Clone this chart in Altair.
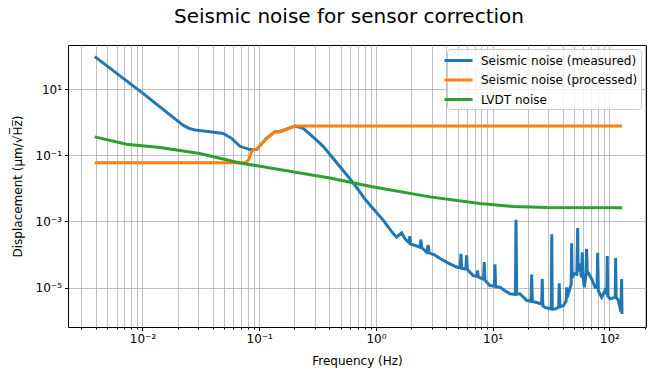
import altair as alt
import pandas as pd

series_names = ["Seismic noise (measured)", "Seismic noise (processed)", "LVDT noise"]
series_colors = ["#1f77b4", "#ff7f0e", "#2ca02c"]

freq_measured = [
    0.0039, 0.0101, 0.0141, 0.0196, 0.0224, 0.0251, 0.0282, 0.0378, 0.0492, 0.058, 0.0684, 0.0832,
    0.095, 0.1156, 0.136, 0.150, 0.202, 0.238, 0.310, 0.353, 0.431, 0.598,
    0.729, 0.80, 0.948, 1.05, 1.156, 1.406, 1.503, 1.66, 1.77, 1.86,
    1.93, 1.95, 1.98, 2.38, 2.43, 2.47, 2.72, 2.81, 2.85, 3.2, 3.78,
    4.3, 4.91, 5.27, 5.35, 5.43, 5.90, 5.98, 6.07, 6.82, 7.35, 7.43, 7.52,
    8.36, 8.47, 8.59, 9.48, 10.35, 10.47, 10.6, 11.56, 12.8, 14.06,
    15.67, 15.85, 16.07, 17.14, 19.54, 21.3, 21.6, 21.9, 23.0,
    26.3, 26.6, 26.9, 28.1, 31.8, 32.1, 32.4, 34.2,
    36.8, 37.2, 37.7, 40.3, 42.7, 43.1, 43.5, 45.4,
    47.1, 47.5, 48.0, 49.8, 52.7, 53.5, 54.0, 56.0,
    57.8, 58.6, 59.2, 61.0, 63.1, 63.8, 64.6, 70.5, 75.3,
    78.5, 79.4, 80.4, 85.9, 91.6, 95.1, 95.9, 96.8, 101.2,
    112.2, 113.2, 114.3, 119.4, 123.3, 126.0, 127.4, 128.2,
]
disp_measured = [
    95.5, 7.41, 2.91, 1.15, 0.794, 0.646, 0.582, 0.513, 0.457, 0.324, 0.186, 0.148,
    0.148, 0.324, 0.513, 0.513, 0.759, 0.646, 0.285, 0.186, 0.0794, 0.0195,
    0.00776, 0.0048, 0.0024, 0.0016, 0.00107, 4.27e-4, 3.31e-4, 4.47e-4, 3.02e-4, 2.51e-4,
    2.24e-4, 3.55e-4, 2.09e-4, 1.66e-4, 2.82e-4, 1.58e-4, 1.17e-4, 1.91e-4, 1.12e-4, 9.5e-5, 6.6e-5,
    5.2e-5, 4.17e-5, 3.98e-5, 1.05e-4, 3.8e-5, 3.63e-5, 9.33e-5, 3.47e-5, 2.29e-5, 2.19e-5, 3.31e-5, 2.09e-5,
    1.78e-5, 5.89e-5, 1.66e-5, 1.15e-5, 1.10e-5, 5.01e-5, 1.05e-5, 1.02e-5, 7.9e-6, 6.46e-6,
    6.17e-6, 1.12e-3, 6.31e-6, 6.46e-6, 4.07e-6, 3.80e-6, 2.45e-5, 3.72e-6, 3.63e-6,
    3.16e-6, 1.82e-5, 2.82e-6, 2.51e-6, 2.24e-6, 4.07e-4, 2.24e-6, 2.24e-6,
    2.51e-6, 1.35e-5, 2.63e-6, 2.82e-6, 3.98e-6, 1.02e-5, 5.01e-6, 8.13e-6,
    1.26e-5, 2.19e-4, 2.0e-5, 2.63e-5, 2.51e-5, 6.31e-4, 3.16e-5, 4.17e-5,
    2.0e-5, 1.17e-4, 2.51e-5, 1.02e-5, 2.51e-5, 1.48e-4, 3.16e-5, 1.82e-5, 1.02e-5,
    1.0e-5, 1.12e-4, 7.94e-6, 5.13e-6, 8.13e-6, 6.31e-6, 8.91e-5, 5.62e-6, 4.57e-6,
    5.01e-6, 7.76e-5, 5.01e-6, 4.07e-6, 2.51e-6, 3.16e-6, 1.82e-5, 1.58e-6,
]

freq_processed = [0.0039, 0.0755, 0.081, 0.0861, 0.089, 0.095, 0.1156, 0.136, 0.150, 0.202, 128.2]
disp_processed = [0.059, 0.059, 0.072, 0.126, 0.148, 0.148, 0.324, 0.513, 0.513, 0.759, 0.759]

freq_lvdt = [0.0039, 0.0073, 0.0141, 0.0309, 0.0684, 0.403, 0.729, 0.955, 2.90, 7.76, 15.0, 28.8, 128.2]
disp_lvdt = [0.359, 0.215, 0.170, 0.112, 0.0585, 0.0204, 0.0132, 0.011, 0.0055, 0.00347, 0.00282, 0.00263, 0.0026]

x_major = [0.01, 0.1, 1, 10, 100]
x_minor = [0.003, 0.004, 0.005, 0.006, 0.007, 0.008, 0.009,
           0.02, 0.03, 0.04, 0.05, 0.06, 0.07, 0.08, 0.09,
           0.2, 0.3, 0.4, 0.5, 0.6, 0.7, 0.8, 0.9,
           2, 3, 4, 5, 6, 7, 8, 9,
           20, 30, 40, 50, 60, 70, 80, 90, 200]
x_labels = ["10⁻²", "10⁻¹", "10⁰", "10¹", "10²"]
y_major = [10, 0.1, 0.001, 0.00001]
y_labels = ["10¹", "10⁻¹", "10⁻³", "10⁻⁵"]

rows = []
for name, fs, ds in zip(series_names,
                        [freq_measured, freq_processed, freq_lvdt],
                        [disp_measured, disp_processed, disp_lvdt]):
    for i, (f, d) in enumerate(zip(fs, ds)):
        rows.append({"series": name, "freq": f, "disp": d, "idx": i})
df = pd.DataFrame(rows)


def label_expr(values, labels):
    expr = "''"
    for v, l in zip(reversed(values), reversed(labels)):
        expr = f"abs(datum.value - {v}) < {v * 1e-3} ? '{l}' : ({expr})"
    return expr


x_scale = alt.Scale(type="log", domain=[0.0023, 206], nice=False)
y_scale = alt.Scale(type="log", domain=[6.4e-7, 215], nice=False)

base = alt.Chart(df)

lines = base.mark_line(strokeWidth=3, clip=True).encode(
    x=alt.X("freq:Q", scale=x_scale,
            axis=alt.Axis(values=x_major, labelExpr=label_expr(x_major, x_labels),
                          title="Frequency (Hz)", tickSize=3.5, labelPadding=3,
                          grid=True, gridColor="#b0b0b0", gridWidth=0.8,
                          domain=False, tickColor="black", labelColor="black",
                          labelFontSize=12, titleFontSize=12, titleFontWeight="normal",
                          titlePadding=11, titleColor="black", labelFlush=False,
                          orient="bottom")),
    y=alt.Y("disp:Q", scale=y_scale,
            axis=alt.Axis(values=y_major, labelExpr=label_expr(y_major, y_labels),
                          title="Displacement (μm/√H̅z̅)", tickSize=3.5, labelPadding=3,
                          grid=True, gridColor="#b0b0b0", gridWidth=0.8,
                          domain=False, tickColor="black", labelColor="black",
                          labelFontSize=12, titleFontSize=12, titleFontWeight="normal",
                          titlePadding=11, titleColor="black", labelFlush=False)),
    color=alt.Color("series:N",
                    scale=alt.Scale(domain=series_names, range=series_colors),
                    legend=alt.Legend(title=None, orient="none", legendX=379, legendY=4,
                                      fillColor="rgba(255,255,255,0.8)", strokeColor="#cccccc",
                                      cornerRadius=3, padding=3,
                                      symbolType="M-2,0L2,0", symbolSize=196,
                                      symbolStrokeWidth=3, labelFontSize=12,
                                      labelColor="black", labelOffset=14,
                                      labelLimit=400, rowPadding=4.5)),
    order=alt.Order("idx:Q"),
)

minor = alt.Chart(pd.DataFrame({"freq": x_minor})).mark_tick(opacity=0).encode(
    x=alt.X("freq:Q", scale=x_scale,
            axis=alt.Axis(values=x_minor, labels=False, title=None, tickSize=2,
                          grid=True, gridColor="#b0b0b0", gridWidth=0.8,
                          domain=False, tickColor="black", orient="bottom")),
)

chart = alt.layer(minor, lines).resolve_axis(x="independent").properties(
    width=578, height=282,
    autosize=alt.AutoSizeParams(type="none"),
    padding={"left": 68, "top": 45, "right": 9, "bottom": 48},
    title=alt.TitleParams("Seismic noise for sensor correction", fontSize=20,
                          fontWeight="normal", color="black", anchor="middle",
                          dx=-8, offset=18),
).configure(font="DejaVu Sans").configure_view(stroke="black", strokeWidth=1)

chart.save("out.html", embed_options={"renderer": "svg", "actions": False})
